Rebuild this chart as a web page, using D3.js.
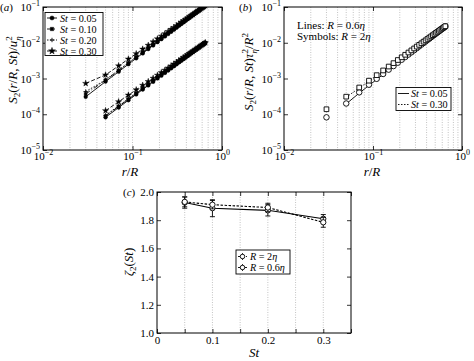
<!DOCTYPE html>
<html>
<head>
<meta charset="utf-8">
<script src="https://cdn.jsdelivr.net/npm/d3@7"></script>
<style>
body { margin: 0; background: #fff; }
svg { font-family: "Liberation Serif", "Times New Roman", serif; }
</style>
</head>
<body>
<svg id="fig" width="474" height="361"></svg>
<script>
// ---- data ----
// r/R sample positions (R = 2 eta starts at 0.03, R = 0.6 eta at 0.05)
var rR2 = [0.03, 0.05, 0.07, 0.09, 0.11, 0.13, 0.15, 0.17, 0.19, 0.21, 0.23, 0.25, 0.27, 0.29, 0.31, 0.33,
           0.35, 0.37, 0.39, 0.41, 0.43, 0.45, 0.47, 0.49, 0.51, 0.53, 0.55, 0.57, 0.59, 0.61, 0.63, 0.65];
var rR06 = [0.05, 0.07, 0.09, 0.11, 0.13, 0.15, 0.17, 0.19, 0.21, 0.23, 0.25, 0.27, 0.29, 0.31, 0.33,
            0.35, 0.37, 0.39, 0.41, 0.43, 0.45, 0.47, 0.49, 0.51, 0.53, 0.55, 0.57, 0.59, 0.61, 0.63, 0.65];

var stLabels = ['0.05', '0.10', '0.20', '0.30'];

// (a) S2 / u_eta^2, R = 2 eta (upper group)
var a_R2_St005 = [3.08e-4, 8.2e-4, 1.55e-3, 2.51e-3, 3.67e-3, 5.04e-3, 6.66e-3, 8.38e-3, 1.04e-2, 1.26e-2, 1.50e-2,
  1.76e-2, 2.03e-2, 2.32e-2, 2.64e-2, 2.99e-2, 3.34e-2, 3.70e-2, 4.10e-2, 4.51e-2, 4.93e-2, 5.38e-2, 5.83e-2,
  6.32e-2, 6.84e-2, 7.33e-2, 7.86e-2, 8.42e-2, 9.02e-2, 9.59e-2, 1.02e-1, 1.08e-1];
var a_R2_St010 = [3.7e-4, 9.0e-4, 1.68e-3, 2.70e-3, 3.92e-3, 5.36e-3, 7.05e-3, 8.84e-3, 1.09e-2, 1.32e-2, 1.57e-2,
  1.84e-2, 2.11e-2, 2.41e-2, 2.73e-2, 3.08e-2, 3.44e-2, 3.80e-2, 4.20e-2, 4.61e-2, 5.03e-2, 5.48e-2, 5.93e-2,
  6.42e-2, 6.93e-2, 7.41e-2, 7.94e-2, 8.49e-2, 9.08e-2, 9.64e-2, 1.02e-1, 1.08e-1];
var a_R2_St020 = [4.3e-4, 9.2e-4, 1.72e-3, 2.76e-3, 4.00e-3, 5.45e-3, 7.15e-3, 8.95e-3, 1.10e-2, 1.33e-2, 1.58e-2,
  1.85e-2, 2.13e-2, 2.43e-2, 2.75e-2, 3.10e-2, 3.46e-2, 3.82e-2, 4.22e-2, 4.63e-2, 5.05e-2, 5.50e-2, 5.95e-2,
  6.44e-2, 6.95e-2, 7.43e-2, 7.96e-2, 8.51e-2, 9.10e-2, 9.66e-2, 1.03e-1, 1.09e-1];
var a_R2_St030 = [7.3e-4, 1.26e-3, 2.26e-3, 3.50e-3, 4.95e-3, 6.64e-3, 8.51e-3, 1.06e-2, 1.29e-2, 1.53e-2, 1.79e-2,
  2.07e-2, 2.37e-2, 2.68e-2, 3.01e-2, 3.37e-2, 3.72e-2, 4.09e-2, 4.49e-2, 4.90e-2, 5.31e-2, 5.75e-2, 6.21e-2,
  6.67e-2, 7.18e-2, 7.66e-2, 8.15e-2, 8.69e-2, 9.23e-2, 9.77e-2, 1.03e-1, 1.09e-1];

// (a) S2 / u_eta^2, R = 0.6 eta (lower group)
var a_R06_St005 = [8.2e-5, 1.54e-4, 2.47e-4, 3.59e-4, 4.91e-4, 6.41e-4, 8.09e-4, 1.00e-3, 1.20e-3, 1.43e-3, 1.67e-3,
  1.92e-3, 2.20e-3, 2.49e-3, 2.81e-3, 3.13e-3, 3.47e-3, 3.83e-3, 4.21e-3, 4.59e-3, 5.00e-3, 5.43e-3, 5.86e-3,
  6.34e-3, 6.79e-3, 7.28e-3, 7.80e-3, 8.32e-3, 8.83e-3, 9.38e-3, 9.95e-3];
var a_R06_St010 = [8.9e-5, 1.66e-4, 2.64e-4, 3.82e-4, 5.20e-4, 6.77e-4, 8.51e-4, 1.05e-3, 1.26e-3, 1.49e-3, 1.74e-3,
  2.00e-3, 2.28e-3, 2.58e-3, 2.90e-3, 3.23e-3, 3.57e-3, 3.93e-3, 4.31e-3, 4.69e-3, 5.10e-3, 5.53e-3, 5.96e-3,
  6.43e-3, 6.88e-3, 7.36e-3, 7.87e-3, 8.38e-3, 8.88e-3, 9.42e-3, 9.98e-3];
var a_R06_St020 = [9.3e-5, 1.72e-4, 2.72e-4, 3.93e-4, 5.33e-4, 6.92e-4, 8.69e-4, 1.07e-3, 1.28e-3, 1.51e-3, 1.76e-3,
  2.03e-3, 2.31e-3, 2.61e-3, 2.93e-3, 3.26e-3, 3.60e-3, 3.96e-3, 4.34e-3, 4.72e-3, 5.13e-3, 5.56e-3, 5.99e-3,
  6.46e-3, 6.91e-3, 7.39e-3, 7.90e-3, 8.41e-3, 8.91e-3, 9.45e-3, 1.00e-2];
var a_R06_St030 = [1.26e-4, 2.24e-4, 3.44e-4, 4.84e-4, 6.46e-4, 8.24e-4, 1.02e-3, 1.24e-3, 1.46e-3, 1.71e-3, 1.97e-3,
  2.25e-3, 2.54e-3, 2.84e-3, 3.18e-3, 3.51e-3, 3.85e-3, 4.22e-3, 4.60e-3, 4.98e-3, 5.38e-3, 5.81e-3, 6.24e-3,
  6.68e-3, 7.13e-3, 7.59e-3, 8.07e-3, 8.57e-3, 9.06e-3, 9.57e-3, 1.01e-2];

// (b) S2 tau_eta^2 / R^2 ; symbols R = 2 eta, lines R = 0.6 eta
var b_R2_St005 = [8.2e-5, 2.0e-4, 4.1e-4, 6.7e-4, 9.8e-4, 1.34e-3, 1.77e-3, 2.23e-3, 2.77e-3, 3.35e-3, 3.99e-3,
  4.68e-3, 5.40e-3, 6.18e-3, 7.03e-3, 7.94e-3, 8.87e-3, 9.84e-3, 1.09e-2, 1.20e-2, 1.31e-2, 1.43e-2, 1.55e-2,
  1.68e-2, 1.82e-2, 1.95e-2, 2.09e-2, 2.24e-2, 2.40e-2, 2.55e-2, 2.71e-2, 2.88e-2];
var b_R2_St030 = [1.38e-4, 3.1e-4, 5.6e-4, 8.7e-4, 1.24e-3, 1.68e-3, 2.16e-3, 2.69e-3, 3.29e-3, 3.92e-3, 4.61e-3,
  5.33e-3, 6.11e-3, 6.93e-3, 7.80e-3, 8.73e-3, 9.68e-3, 1.07e-2, 1.17e-2, 1.28e-2, 1.39e-2, 1.51e-2, 1.63e-2,
  1.75e-2, 1.89e-2, 2.01e-2, 2.15e-2, 2.30e-2, 2.44e-2, 2.58e-2, 2.74e-2, 2.90e-2];
var b_R06_St005 = [1.95e-4, 3.9e-4, 6.4e-4, 9.4e-4, 1.30e-3, 1.72e-3, 2.18e-3, 2.71e-3, 3.29e-3, 3.92e-3, 4.60e-3,
  5.32e-3, 6.09e-3, 6.93e-3, 7.84e-3, 8.77e-3, 9.73e-3, 1.08e-2, 1.19e-2, 1.30e-2, 1.42e-2, 1.54e-2, 1.67e-2,
  1.81e-2, 1.94e-2, 2.08e-2, 2.23e-2, 2.39e-2, 2.54e-2, 2.70e-2, 2.87e-2];
var b_R06_St030 = [3.0e-4, 5.4e-4, 8.5e-4, 1.21e-3, 1.65e-3, 2.13e-3, 2.66e-3, 3.26e-3, 3.89e-3, 4.58e-3, 5.30e-3,
  6.08e-3, 6.90e-3, 7.77e-3, 8.70e-3, 9.65e-3, 1.07e-2, 1.17e-2, 1.28e-2, 1.39e-2, 1.51e-2, 1.63e-2, 1.75e-2,
  1.89e-2, 2.01e-2, 2.15e-2, 2.30e-2, 2.44e-2, 2.58e-2, 2.74e-2, 2.90e-2];

// (c) scaling exponent zeta_2 vs St
var stC = [0.05, 0.1, 0.2, 0.3];
var zetaR2 = [1.93, 1.91, 1.89, 1.785];
var errR2 = [0.035, 0.03, 0.03, 0.035];
var zetaR06 = [1.925, 1.885, 1.87, 1.81];
var errR06 = [0.04, 0.06, 0.04, 0.03];

// tick positions
var logMajor = [0.01, 0.1, 1];
var logMajorY = [1e-5, 1e-4, 1e-3, 1e-2, 1e-1];
var logMinor = [0.02, 0.03, 0.04, 0.05, 0.06, 0.07, 0.08, 0.09, 0.1, 0.2, 0.3, 0.4, 0.5, 0.6, 0.7, 0.8, 0.9];
var cTicksX = [0, 0.05, 0.1, 0.15, 0.2, 0.25, 0.3, 0.35];
var cGridX = [0.05, 0.1, 0.15, 0.2, 0.25, 0.3];
var cTicksY = [1.0, 1.2, 1.4, 1.6, 1.8, 2.0];

// ---- drawing ----
var svg = d3.select('#fig');
var FONT = '"Liberation Serif", "Times New Roman", serif';

// text with italic / sub / superscript parts
function rich(sel, parts) {
    var shift = 0;
    parts.forEach(function(p) {
        var o = p.o || 0;
        var t = sel.append('tspan').text(p.t);
        if (o !== shift) t.attr('dy', o - shift);
        if (p.dx) t.attr('dx', p.dx);
        if (p.i) t.attr('font-style', 'italic');
        if (p.s) t.attr('font-size', p.s);
        shift = o;
    });
    return sel;
}

function pow10parts(v) {
    var k = Math.round(Math.log10(v));
    return [{t: '10'}, {t: (k < 0 ? '\u2212' : '') + Math.abs(k), o: -5, s: 8}];
}

function frame(g, x, y, opt) {
    var xl = x.range()[0], xr = x.range()[1], yb = y.range()[0], yt = y.range()[1];

    g.selectAll('line.grid').data(opt.grid).enter().append('line')
        .attr('class', 'grid')
        .attr('x1', function(d) { return x(d); }).attr('x2', function(d) { return x(d); })
        .attr('y1', yt).attr('y2', yb)
        .attr('stroke', '#9a9a9a').attr('stroke-width', 0.6).attr('stroke-dasharray', '1,1.5');

    var bottom = d3.axisBottom(x).tickValues(opt.xTicks).tickSizeInner(-4).tickSizeOuter(0).tickPadding(opt.xPad || 2);
    var left = d3.axisLeft(y).tickValues(opt.yTicks).tickSizeInner(-4).tickSizeOuter(0).tickPadding(3);
    if (opt.xFormat) bottom.tickFormat(opt.xFormat);
    if (opt.yFormat) left.tickFormat(opt.yFormat);

    var ax = g.append('g').attr('transform', 'translate(0,' + yb + ')').call(bottom);
    var ay = g.append('g').attr('transform', 'translate(' + xl + ',0)').call(left);
    var at = g.append('g').attr('transform', 'translate(0,' + yt + ')')
        .call(d3.axisTop(x).tickValues(opt.xTicks).tickSizeInner(-4).tickSizeOuter(0).tickFormat(''));
    var ar = g.append('g').attr('transform', 'translate(' + xr + ',0)')
        .call(d3.axisRight(y).tickValues(opt.yTicks).tickSizeInner(-4).tickSizeOuter(0).tickFormat(''));

    [ax, ay, at, ar].forEach(function(a) {
        a.select('.domain').remove();
        a.attr('font-family', FONT).attr('font-size', 11);
        a.selectAll('.tick line').attr('stroke', '#000').attr('stroke-width', 0.8);
        a.selectAll('.tick text').attr('fill', '#000');
    });

    if (opt.logLabels) {
        ax.selectAll('.tick text').text(null).each(function(d) { rich(d3.select(this), pow10parts(d)); });
        ay.selectAll('.tick text').text(null).each(function(d) { rich(d3.select(this), pow10parts(d)); });
    }

    g.append('rect').attr('x', xl).attr('y', yt).attr('width', xr - xl).attr('height', yb - yt)
        .attr('fill', 'none').attr('stroke', '#000').attr('stroke-width', 1);
}

function label(x, y, parts, opt) {
    opt = opt || {};
    var t = svg.append('text').attr('x', x).attr('y', y)
        .attr('font-size', opt.size || 13).attr('text-anchor', opt.anchor || 'middle').attr('fill', '#000');
    if (opt.rotate) t.attr('transform', 'rotate(-90,' + x + ',' + y + ')');
    return rich(t, parts);
}

var symbolType = { circle: d3.symbolCircle, square: d3.symbolSquare, star: d3.symbolStar };

function drawMarker(g, type, cx, cy, size, filled) {
    if (type === 'plus') {
        g.append('path')
            .attr('d', 'M' + (cx - 2.2) + ',' + cy + 'H' + (cx + 2.2) + 'M' + cx + ',' + (cy - 2.2) + 'V' + (cy + 2.2))
            .attr('stroke', '#000').attr('stroke-width', 0.9);
        return;
    }
    g.append('path')
        .attr('d', d3.symbol().type(symbolType[type]).size(size)())
        .attr('transform', 'translate(' + cx + ',' + cy + ')')
        .attr('fill', filled ? '#000' : '#fff').attr('stroke', '#000').attr('stroke-width', filled ? 0.4 : 0.9);
}

function clipFor(id, x, y) {
    svg.append('clipPath').attr('id', id).append('rect')
        .attr('x', x.range()[0]).attr('y', y.range()[1])
        .attr('width', x.range()[1] - x.range()[0]).attr('height', y.range()[0] - y.range()[1]);
}

// ---------- panel (a) ----------
var xA = d3.scaleLog().domain([0.01, 1]).range([43, 222]);
var yA = d3.scaleLog().domain([1e-5, 1e-1]).range([150, 7]);
var gA = svg.append('g');
frame(gA, xA, yA, { grid: logMinor, xTicks: logMajor, yTicks: logMajorY, logLabels: true });
clipFor('clipA', xA, yA);

var stylesA = [
    { dash: null, mark: 'circle', size: 11 },
    { dash: '5,2,1,2', mark: 'square', size: 9 },
    { dash: '1.5,1.5', mark: 'plus', size: 0 },
    { dash: '4,2', mark: 'star', size: 12 }
];
var seriesA = [
    { r: rR2, v: a_R2_St005, s: 0 }, { r: rR2, v: a_R2_St010, s: 1 },
    { r: rR2, v: a_R2_St020, s: 2 }, { r: rR2, v: a_R2_St030, s: 3 },
    { r: rR06, v: a_R06_St005, s: 0 }, { r: rR06, v: a_R06_St010, s: 1 },
    { r: rR06, v: a_R06_St020, s: 2 }, { r: rR06, v: a_R06_St030, s: 3 }
];
var lineA = d3.line().x(function(d) { return xA(d[0]); }).y(function(d) { return yA(d[1]); });
var dataA = gA.append('g').attr('clip-path', 'url(#clipA)');
seriesA.forEach(function(sr) {
    var pts = d3.zip(sr.r, sr.v);
    var st = stylesA[sr.s];
    dataA.append('path').attr('d', lineA(pts)).attr('fill', 'none')
        .attr('stroke', '#000').attr('stroke-width', 0.9).attr('stroke-dasharray', st.dash);
    pts.forEach(function(p) { drawMarker(dataA, st.mark, xA(p[0]), yA(p[1]), st.size, true); });
});

// legend (a)
var legA = svg.append('g');
legA.append('rect').attr('x', 45).attr('y', 12.5).attr('width', 58).attr('height', 43)
    .attr('fill', '#fff').attr('stroke', '#000').attr('stroke-width', 0.9);
stLabels.forEach(function(s, i) {
    var yy = 18 + i * 11, st = stylesA[i];
    legA.append('line').attr('x1', 47).attr('x2', 57).attr('y1', yy).attr('y2', yy)
        .attr('stroke', '#000').attr('stroke-width', 0.9).attr('stroke-dasharray', st.dash);
    drawMarker(legA, st.mark, 52, yy, st.size + 3, true);
    rich(legA.append('text').attr('x', 60).attr('y', yy + 3.5).attr('font-size', 10.2),
        [{ t: 'St', i: 1 }, { t: ' = ' + s }]);
});

label(0, 11, [{ t: '(' }, { t: 'a', i: 1 }, { t: ')' }], { anchor: 'start', size: 11 });
label(17, 70, [{ t: 'S', i: 1 }, { t: '2', o: 3, s: 9 }, { t: '(' }, { t: 'r', i: 1 }, { t: '/' }, { t: 'R', i: 1 },
    { t: ', ' }, { t: 'St', i: 1 }, { t: ')/' }, { t: 'u', i: 1 }, { t: '2', o: -5, s: 9 },
    { t: '\u03b7', o: 4, s: 9, i: 1, dx: -4.5 }], { rotate: true, size: 13 });
label(130, 176, [{ t: 'r', i: 1 }, { t: '/' }, { t: 'R', i: 1 }], { size: 13 });

// ---------- panel (b) ----------
var xB = d3.scaleLog().domain([0.01, 1]).range([284, 462]);
var yB = d3.scaleLog().domain([1e-5, 1e-1]).range([150, 7]);
var gB = svg.append('g');
frame(gB, xB, yB, { grid: logMinor, xTicks: logMajor, yTicks: logMajorY, logLabels: true });
clipFor('clipB', xB, yB);
var lineB = d3.line().x(function(d) { return xB(d[0]); }).y(function(d) { return yB(d[1]); });
var dataB = gB.append('g').attr('clip-path', 'url(#clipB)');

[{ r: rR06, v: b_R06_St005, dash: null }, { r: rR06, v: b_R06_St030, dash: '1.5,1.5' }].forEach(function(sr) {
    dataB.append('path').attr('d', lineB(d3.zip(sr.r, sr.v))).attr('fill', 'none')
        .attr('stroke', '#000').attr('stroke-width', 0.9).attr('stroke-dasharray', sr.dash);
});
[{ r: rR2, v: b_R2_St005, mark: 'circle' }, { r: rR2, v: b_R2_St030, mark: 'square' }].forEach(function(sr) {
    d3.zip(sr.r, sr.v).forEach(function(p) {
        drawMarker(dataB, sr.mark, xB(p[0]), yB(p[1]), sr.mark === 'circle' ? 24 : 22, false);
    });
});

label(297, 28.5, [{ t: 'Lines:  ' }, { t: 'R', i: 1 }, { t: ' = 0.6' }, { t: '\u03b7', i: 1 }], { anchor: 'start', size: 11 });
label(297, 40, [{ t: 'Symbols:  ' }, { t: 'R', i: 1 }, { t: ' = 2' }, { t: '\u03b7', i: 1 }], { anchor: 'start', size: 11 });

var legB = svg.append('g');
legB.append('rect').attr('x', 396).attr('y', 87.5).attr('width', 55).attr('height', 23)
    .attr('fill', '#fff').attr('stroke', '#000').attr('stroke-width', 0.9);
[{ s: '0.05', dash: null }, { s: '0.30', dash: '1.5,1.5' }].forEach(function(e, i) {
    var yy = 93.5 + i * 11;
    legB.append('line').attr('x1', 398).attr('x2', 409).attr('y1', yy).attr('y2', yy)
        .attr('stroke', '#000').attr('stroke-width', 0.9).attr('stroke-dasharray', e.dash);
    rich(legB.append('text').attr('x', 411).attr('y', yy + 3.5).attr('font-size', 10.2),
        [{ t: 'St', i: 1 }, { t: ' = ' + e.s }]);
});

label(239, 11, [{ t: '(' }, { t: 'b', i: 1 }, { t: ')' }], { anchor: 'start', size: 11 });
label(253, 72, [{ t: 'S', i: 1 }, { t: '2', o: 3, s: 9 }, { t: '(' }, { t: 'r', i: 1 }, { t: '/' }, { t: 'R', i: 1 },
    { t: ', ' }, { t: 'St', i: 1 }, { t: ')' }, { t: '\u03c4', i: 1 }, { t: '2', o: -5, s: 9 },
    { t: '\u03b7', o: 4, s: 9, i: 1, dx: -4.5 }, { t: '/' }, { t: 'R', i: 1 }, { t: '2', o: -5, s: 9 }],
    { rotate: true, size: 13 });
label(372, 176, [{ t: 'r', i: 1 }, { t: '/' }, { t: 'R', i: 1 }], { size: 13 });

// ---------- panel (c) ----------
var xC = d3.scaleLinear().domain([0, 0.35]).range([157, 351]);
var yC = d3.scaleLinear().domain([1, 2]).range([333, 192]);
var gC = svg.append('g');
frame(gC, xC, yC, {
    grid: cGridX, xTicks: cTicksX, yTicks: cTicksY, xPad: 3,
    xFormat: function(d) {
        var k = Math.round(d * 20);
        if (k % 2 !== 0 || d > 0.31) return '';
        return d === 0 ? '0' : d.toFixed(1);
    },
    yFormat: d3.format('.1f')
});

var lineC = d3.line().x(function(d) { return xC(d[0]); }).y(function(d) { return yC(d[1]); });
[{ v: zetaR06, e: errR06, dash: null }, { v: zetaR2, e: errR2, dash: '2.5,1.5' }].forEach(function(sr) {
    var pts = d3.zip(stC, sr.v, sr.e);
    gC.append('path').attr('d', lineC(pts)).attr('fill', 'none')
        .attr('stroke', '#000').attr('stroke-width', 1.1).attr('stroke-dasharray', sr.dash);
    pts.forEach(function(p) {
        var cx = xC(p[0]), y1 = yC(p[1] - p[2]), y2 = yC(p[1] + p[2]);
        gC.append('path').attr('d', 'M' + cx + ',' + y1 + 'V' + y2 + 'M' + (cx - 2.5) + ',' + y1 + 'H' + (cx + 2.5) +
            'M' + (cx - 2.5) + ',' + y2 + 'H' + (cx + 2.5))
            .attr('stroke', '#000').attr('stroke-width', 0.9).attr('fill', 'none');
        drawMarker(gC, 'circle', cx, yC(p[1]), 22, false);
    });
});

var legC = svg.append('g');
legC.append('rect').attr('x', 236).attr('y', 250).attr('width', 54).attr('height', 24)
    .attr('fill', '#fff').attr('stroke', '#000').attr('stroke-width', 0.9);
[{ parts: [{ t: 'R', i: 1 }, { t: ' = 2' }, { t: '\u03b7', i: 1 }], dash: '2.5,1.5' },
 { parts: [{ t: 'R', i: 1 }, { t: ' = 0.6' }, { t: '\u03b7', i: 1 }], dash: null }].forEach(function(e, i) {
    var yy = 256.5 + i * 11;
    legC.append('line').attr('x1', 238).attr('x2', 247).attr('y1', yy).attr('y2', yy)
        .attr('stroke', '#000').attr('stroke-width', 0.9).attr('stroke-dasharray', e.dash);
    legC.append('path').attr('d', 'M242.5,' + (yy - 3.5) + 'V' + (yy + 3.5)).attr('stroke', '#000').attr('stroke-width', 0.8);
    drawMarker(legC, 'circle', 242.5, yy, 16, false);
    rich(legC.append('text').attr('x', 250).attr('y', yy + 3.5).attr('font-size', 10.2), e.parts);
});

label(123, 196, [{ t: '(' }, { t: 'c', i: 1 }, { t: ')' }], { anchor: 'start', size: 11 });
label(133, 262, [{ t: '\u03b6', i: 1 }, { t: '2', o: 3, s: 9 }, { t: '(' }, { t: 'St', i: 1 }, { t: ')' }], { rotate: true, size: 13 });
label(254, 357, [{ t: 'St', i: 1 }], { size: 13 });
</script>
</body>
</html>
